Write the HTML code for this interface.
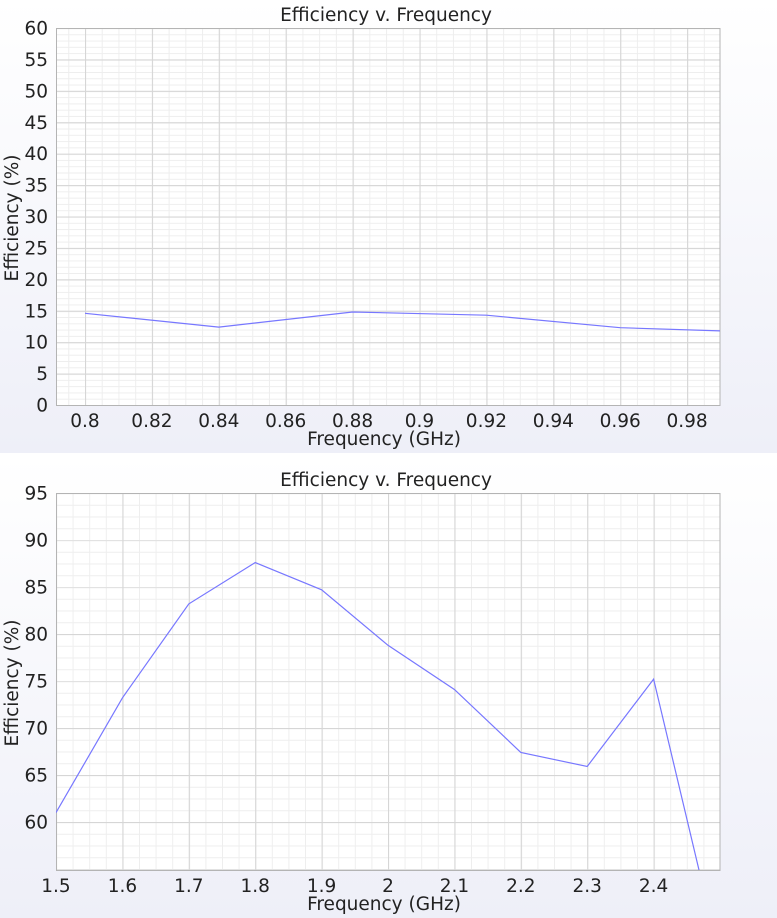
<!DOCTYPE html>
<html><head><meta charset="utf-8"><style>
html,body{margin:0;padding:0;background:#fff}
svg{display:block;font-family:"DejaVu Sans","Liberation Sans",sans-serif}
</style></head><body>
<svg width="777" height="918" viewBox="0 0 777 918" xmlns="http://www.w3.org/2000/svg">
<defs>
<linearGradient id="bg" x1="0" y1="0" x2="0" y2="1">
<stop offset="0" stop-color="#ffffff"/><stop offset="1" stop-color="#eeeff8"/></linearGradient>
<pattern id="tmin" patternUnits="userSpaceOnUse" x="85" y="28" width="16.725" height="6.2833">
<path d="M0.5 0V6.2833M0 0.5H16.725" stroke="#eeeeee" stroke-width="1" fill="none"/></pattern>
<pattern id="tmaj" patternUnits="userSpaceOnUse" x="85" y="28" width="66.9" height="31.4167">
<path d="M0.5 0V31.4167M0 0.5H66.9" stroke="#d6d6d6" stroke-width="1.2" fill="none"/></pattern>
<pattern id="bmin" patternUnits="userSpaceOnUse" x="56" y="493" width="16.6" height="11.75">
<path d="M0.5 0V11.75M0 0.5H16.6" stroke="#eeeeee" stroke-width="1" fill="none"/></pattern>
<pattern id="bmaj" patternUnits="userSpaceOnUse" x="56" y="493" width="66.4" height="47">
<path d="M0.5 0V47M0 0.5H66.4" stroke="#d6d6d6" stroke-width="1.2" fill="none"/></pattern>
<clipPath id="cb"><rect x="56" y="493" width="664" height="377"/></clipPath>
</defs>
<rect x="0" y="0" width="777" height="453" fill="url(#bg)"/>
<rect x="0" y="456" width="777" height="462" fill="url(#bg)"/>

<rect x="56" y="28" width="664" height="377" fill="#fff"/>
<rect x="56" y="28" width="664" height="377" fill="url(#tmin)"/>
<rect x="56" y="28" width="664" height="377" fill="url(#tmaj)"/>
<rect x="56.5" y="28.5" width="663.5" height="377" fill="none" stroke="#b4b4b4" stroke-width="1"/>
<polyline points="85,313.3 218.8,327.1 352.6,312 486.4,315.2 620.2,327.7 720,330.9" fill="none" stroke="#7777ff" stroke-width="1.2"/>
<text x="386" y="21" font-size="18.5" text-anchor="middle" fill="#222">Efficiency v. Frequency</text>
<g font-size="18.5" fill="#222" text-anchor="end">
<text x="48" y="34.5">60</text><text x="48" y="65.9">55</text><text x="48" y="97.3">50</text><text x="48" y="128.8">45</text><text x="48" y="160.2">40</text><text x="48" y="191.6">35</text><text x="48" y="223">30</text><text x="48" y="254.4">25</text><text x="48" y="285.8">20</text><text x="48" y="317.3">15</text><text x="48" y="348.7">10</text><text x="48" y="380.1">5</text><text x="48" y="411.5">0</text>
</g>
<g font-size="18.5" fill="#222" text-anchor="middle">
<text x="85" y="427">0.8</text><text x="151.9" y="427">0.82</text><text x="218.8" y="427">0.84</text><text x="285.7" y="427">0.86</text><text x="352.6" y="427">0.88</text><text x="419.5" y="427">0.9</text><text x="486.4" y="427">0.92</text><text x="553.3" y="427">0.94</text><text x="620.2" y="427">0.96</text><text x="687.1" y="427">0.98</text>
<text x="384" y="445">Frequency (GHz)</text>
<text transform="translate(18,218) rotate(-90)">Efficiency (%)</text>
</g>

<rect x="56" y="493" width="664" height="377" fill="#fff"/>
<rect x="56" y="493" width="664" height="377" fill="url(#bmin)"/>
<rect x="56" y="493" width="664" height="377" fill="url(#bmaj)"/>
<rect x="56.5" y="493.5" width="663.5" height="377" fill="none" stroke="#b4b4b4" stroke-width="1"/>
<polyline clip-path="url(#cb)" points="56,812.6 122.4,697.9 188.8,603.9 255.2,562.6 321.6,589.8 388,645.3 454.4,689.5 520.8,752.4 587.2,766.5 653.6,679.1 699,870" fill="none" stroke="#7777ff" stroke-width="1.2"/>
<text x="386" y="486" font-size="18.5" text-anchor="middle" fill="#222">Efficiency v. Frequency</text>
<g font-size="18.5" fill="#222" text-anchor="end">
<text x="48" y="499.5">95</text><text x="48" y="546.5">90</text><text x="48" y="593.5">85</text><text x="48" y="640.5">80</text><text x="48" y="687.5">75</text><text x="48" y="734.5">70</text><text x="48" y="781.5">65</text><text x="48" y="828.5">60</text>
</g>
<g font-size="18.5" fill="#222" text-anchor="middle">
<text x="56" y="892">1.5</text><text x="122.4" y="892">1.6</text><text x="188.8" y="892">1.7</text><text x="255.2" y="892">1.8</text><text x="321.6" y="892">1.9</text><text x="388" y="892">2</text><text x="454.4" y="892">2.1</text><text x="520.8" y="892">2.2</text><text x="587.2" y="892">2.3</text><text x="653.6" y="892">2.4</text>
<text x="384" y="910">Frequency (GHz)</text>
<text transform="translate(18,683) rotate(-90)">Efficiency (%)</text>
</g>
</svg>
</body></html>
